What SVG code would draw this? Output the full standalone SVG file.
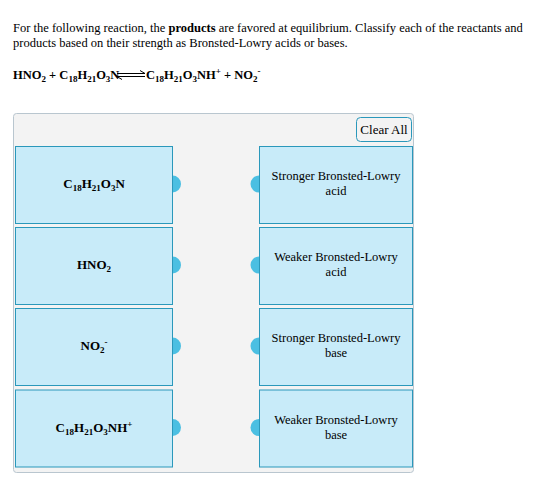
<svg xmlns="http://www.w3.org/2000/svg" width="546" height="487" viewBox="0 0 546 487">
<style>
text{font-family:"Liberation Serif","Times New Roman",serif;fill:#000}
.p{font-size:12.5px}
.eq{font-size:12.5px;font-weight:bold}
.lab{font-size:12.5px;text-anchor:middle}
.chem{font-size:13px;font-weight:bold;text-anchor:middle}
.sub{font-size:9px}
.box{fill:#c8ebf9;stroke:#2a98bb;stroke-width:1}
.dot{fill:#4bbfe2}
</style>
<rect width="546" height="487" fill="#fff"/>
<text class="p" x="13" y="32">For the following reaction, the <tspan font-weight="bold">products</tspan> are favored at equilibrium. Classify each of the reactants and</text>
<text class="p" x="13" y="47">products based on their strength as Bronsted-Lowry acids or bases.</text>
<text class="eq" x="13" y="79">HNO<tspan class="sub" dy="3">2</tspan><tspan dy="-3"> + C</tspan><tspan class="sub" dy="3">18</tspan><tspan dy="-3">H</tspan><tspan class="sub" dy="3">21</tspan><tspan dy="-3">O</tspan><tspan class="sub" dy="3">3</tspan><tspan dy="-3">N</tspan></text>
<g id="eq-arrow" stroke="#000" stroke-width="1" fill="none">
<path d="M117 73.5H145l-5 -3"/>
<path d="M145 76.5H117l5 3"/>
</g>
<text class="eq" x="146" y="79">C<tspan class="sub" dy="3">18</tspan><tspan dy="-3">H</tspan><tspan class="sub" dy="3">21</tspan><tspan dy="-3">O</tspan><tspan class="sub" dy="3">3</tspan><tspan dy="-3">NH</tspan><tspan class="sub" dy="-5">+</tspan><tspan dy="5"> + NO</tspan><tspan class="sub" dy="3">2</tspan><tspan class="sub" dy="-8">-</tspan></text>
<rect id="container" x="13.5" y="113.5" width="400" height="359" rx="3" fill="#f3f3f3" stroke="#b9c6cf"/>
<g id="clear-all">
<rect x="356.5" y="117.5" width="55" height="24" rx="4" fill="#f3f3f3" stroke="#2a98bb"/>
<text x="384" y="133.5" font-size="13" text-anchor="middle">Clear All</text>
</g>
<g id="connectors">
<path class="dot" d="M172.5 175.5a8.5 8.5 0 0 1 0 17z"/>
<path class="dot" d="M172.5 256.5a8.5 8.5 0 0 1 0 17z"/>
<path class="dot" d="M172.5 337.5a8.5 8.5 0 0 1 0 17z"/>
<path class="dot" d="M172.5 419a8.5 8.5 0 0 1 0 17z"/>
<path class="dot" d="M259 175.5a8.5 8.5 0 0 0 0 17z"/>
<path class="dot" d="M259 256.5a8.5 8.5 0 0 0 0 17z"/>
<path class="dot" d="M259 337.5a8.5 8.5 0 0 0 0 17z"/>
<path class="dot" d="M259 419a8.5 8.5 0 0 0 0 17z"/>
</g>
<g id="item1">
<rect class="box" x="15.5" y="146.5" width="157" height="77"/>
<text class="chem" x="94" y="188">C<tspan class="sub" dy="3">18</tspan><tspan dy="-3">H</tspan><tspan class="sub" dy="3">21</tspan><tspan dy="-3">O</tspan><tspan class="sub" dy="3">3</tspan><tspan dy="-3">N</tspan></text>
</g>
<g id="item2">
<rect class="box" x="15.5" y="227.5" width="157" height="77"/>
<text class="chem" x="94" y="269">HNO<tspan class="sub" dy="3">2</tspan></text>
</g>
<g id="item3">
<rect class="box" x="15.5" y="308.5" width="157" height="77"/>
<text class="chem" x="94" y="350">NO<tspan class="sub" dy="3">2</tspan><tspan class="sub" dy="-8">-</tspan></text>
</g>
<g id="item4">
<rect class="box" x="15.5" y="390" width="157" height="77"/>
<text class="chem" x="94" y="432">C<tspan class="sub" dy="3">18</tspan><tspan dy="-3">H</tspan><tspan class="sub" dy="3">21</tspan><tspan dy="-3">O</tspan><tspan class="sub" dy="3">3</tspan><tspan dy="-3">NH</tspan><tspan class="sub" dy="-5">+</tspan></text>
</g>
<g id="cat1">
<rect class="box" x="259.5" y="146.5" width="153" height="77"/>
<text class="lab" x="336" y="180">Stronger Bronsted-Lowry</text>
<text class="lab" x="336" y="195">acid</text>
</g>
<g id="cat2">
<rect class="box" x="259.5" y="227.5" width="153" height="77"/>
<text class="lab" x="336" y="261">Weaker Bronsted-Lowry</text>
<text class="lab" x="336" y="276">acid</text>
</g>
<g id="cat3">
<rect class="box" x="259.5" y="308.5" width="153" height="77"/>
<text class="lab" x="336" y="342">Stronger Bronsted-Lowry</text>
<text class="lab" x="336" y="357">base</text>
</g>
<g id="cat4">
<rect class="box" x="259.5" y="390" width="153" height="77"/>
<text class="lab" x="336" y="424">Weaker Bronsted-Lowry</text>
<text class="lab" x="336" y="439">base</text>
</g>
</svg>
